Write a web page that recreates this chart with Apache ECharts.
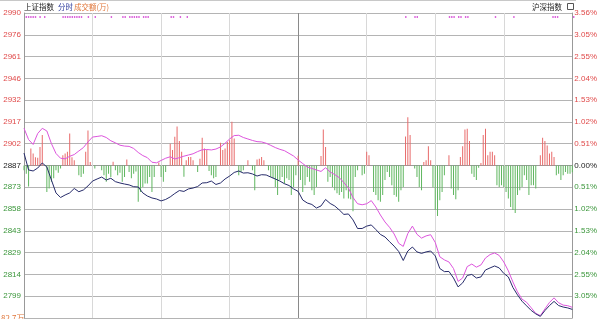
<!DOCTYPE html>
<html><head><meta charset="utf-8">
<script src="https://cdn.jsdelivr.net/npm/echarts@6/dist/echarts.min.js"></script>
<style>html,body{margin:0;padding:0;background:#fff}#c{width:600px;height:319px}</style>
</head><body><div id="c"></div>
<script>
// Reference price (prev close) and one gridline step, in index points
const basePrice = 2887.5;
const stepPrice = 14.7;

// Tick labels, bottom to top
const leftLabels = ['', '2799', '2814', '2829', '2843', '2858', '2873', '2887', '2902', '2917', '2932', '2946', '2961', '2976', '2990'];
const rightLabels = ['', '3.05%', '2.55%', '2.04%', '1.53%', '1.02%', '0.51%', '0.00%', '0.51%', '1.02%', '1.53%', '2.04%', '2.55%', '3.05%', '3.56%'];

// 分时 price line, sampled every 2 minutes (9:30 ... 15:00)
const priceLine = [
  2895.9, 2884.5, 2883.8, 2885.8, 2889.2, 2886.5, 2877.7, 2869.0, 2865.9, 2867.6,
  2869.0, 2872.0, 2869.8, 2871.0, 2873.7, 2877.0, 2878.4, 2879.7, 2877.7, 2878.9,
  2876.6, 2875.7, 2875.0, 2874.4, 2873.2, 2873.0, 2869.0, 2866.9, 2865.6, 2864.9,
  2863.6, 2864.6, 2866.3, 2868.6, 2870.6, 2870.0, 2871.7, 2872.3, 2873.3, 2875.7,
  2875.9, 2877.0, 2874.7, 2875.7, 2878.4, 2880.4, 2882.8, 2883.8, 2882.4, 2882.6,
  2881.8, 2880.4, 2881.3, 2881.1, 2879.7, 2878.4, 2877.0, 2875.2, 2874.0, 2871.7,
  2870.0, 2864.2, 2862.2, 2861.2, 2858.8, 2860.2, 2864.6, 2861.9, 2860.2, 2857.5,
  2854.5, 2854.8, 2850.8, 2845.0, 2845.0, 2846.6, 2847.4, 2844.3, 2841.0, 2839.3,
  2836.1, 2833.1, 2829.5, 2823.4, 2829.8, 2832.5, 2829.2, 2828.2, 2829.2, 2829.8,
  2826.5, 2818.0, 2815.9, 2816.0, 2811.6, 2805.6, 2808.3, 2813.3, 2814.0, 2811.6,
  2812.3, 2817.0, 2818.4, 2819.7, 2818.4, 2814.7, 2812.3, 2805.2, 2800.2, 2795.9,
  2792.8, 2789.7, 2787.4, 2785.7, 2789.6, 2793.0, 2795.8, 2793.0, 2792.0, 2791.4,
  2790.4
];

// 沪深指数 comparison line, sampled every 2 minutes, on the same scale
const indexLine = [
  2912.6, 2905.0, 2901.7, 2909.1, 2912.6, 2910.8, 2902.3, 2895.6, 2892.4, 2892.0,
  2893.7, 2894.9, 2897.3, 2899.6, 2903.4, 2906.7, 2907.1, 2907.6, 2906.4, 2904.2,
  2902.8, 2901.2, 2900.6, 2900.4, 2899.0, 2896.3, 2894.2, 2892.8, 2889.7, 2889.3,
  2890.9, 2892.4, 2893.4, 2891.9, 2892.8, 2893.8, 2894.6, 2895.4, 2896.9, 2898.1,
  2898.3, 2898.0, 2898.6, 2900.0, 2902.5, 2905.4, 2907.7, 2907.9, 2906.4, 2905.4,
  2904.4, 2903.6, 2903.4, 2902.5, 2901.1, 2899.6, 2898.4, 2897.5, 2895.7, 2893.9,
  2891.2, 2888.8, 2886.5, 2885.5, 2884.5, 2883.5, 2886.0, 2883.1, 2881.4, 2879.3,
  2876.0, 2872.3, 2865.9, 2861.7, 2861.0, 2861.7, 2863.8, 2859.5, 2854.1, 2849.4,
  2845.8, 2841.3, 2835.0, 2832.9, 2841.6, 2846.6, 2841.1, 2838.5, 2840.0, 2840.8,
  2835.6, 2825.9, 2823.8, 2822.4, 2818.0, 2809.3, 2811.6, 2819.3, 2821.0, 2818.9,
  2820.4, 2825.1, 2827.4, 2828.5, 2826.8, 2822.4, 2816.4, 2808.9, 2802.2, 2797.3,
  2795.2, 2791.5, 2787.7, 2786.2, 2790.7, 2795.1, 2798.2, 2794.9, 2793.3, 2792.9,
  2791.8
];

// per-minute strength bars (percent units, + red / - green), minute 0..240
const barValues = [
  -0.11, -0.19, -0.49, 0.40, 0.28, 0.19, 0.18, 0.43, 0.71, 0,
  -0.62, -0.54, -0.38, -0.30, -0.11, -0.17, -0.07, 0.24, 0.28, 0.32,
  0.75, 0.19, 0.12, 0, -0.23, -0.27, -0.19, 0.32, 0.82, 0.08,
  0, -0.07, 0, 0, -0.11, -0.23, -0.38, -0.19, -0.27, 0.09,
  -0.11, -0.23, -0.17, -0.38, -0.27, 0.14, -0.15, -0.30, -0.19, -0.14,
  -0.85, -0.62, -0.50, -0.42, -0.42, -0.27, -0.62, -0.27, 0, 0.07,
  -0.27, -0.38, -0.15, 0, 0.51, 0.36, 0.67, 0.91, 0.57, 0.32,
  -0.26, 0.12, 0.20, 0.20, 0.12, 0, -0.15, 0.16, 0.65, 0.40,
  0.36, -0.13, -0.23, -0.30, -0.27, 0, 0.53, 0.36, 0.40, 0.55,
  0.59, 1.02, 0.63, 0, -0.23, -0.15, -0.11, 0, 0.12, 0,
  -0.11, -0.58, 0.14, 0.16, 0.20, 0.12, 0, -0.11, -0.27, -0.30,
  -0.50, -0.69, -0.34, -0.27, -0.42, -0.30, -0.34, -0.69, -0.50, -0.23,
  0.23, -0.34, -0.62, -0.46, -0.27, -0.38, -0.58, -0.69, -0.50, 0,
  0.22, 0.84, 0.43, -0.38, -0.27, -0.50, -0.58, -0.65, -0.69, -0.62,
  -0.77, -0.58, -0.77, -0.79, -1.07, -0.27, -0.11, 0, -0.23, -0.19,
  0.32, 0.24, 0, -0.62, -0.69, -0.81, -0.85, -0.69, -0.34, -0.15,
  -0.27, -0.46, -0.69, -0.73, -0.85, -0.58, -0.50, 0.68, 1.13, 0.71,
  0, -0.07, -0.27, -0.50, -0.58, 0.08, 0.12, 0.45, 0.12, -0.51,
  -1.04, -1.18, -0.81, -0.62, -0.23, 0, 0.24, -0.54, -0.69, -0.79,
  -0.58, 0.20, 0.45, 0.84, 0.86, 0.57, -0.19, -0.27, -0.34, -0.05,
  0.06, 0.71, 0.86, 0.24, 0.32, 0.32, 0.24, -0.46, -0.50, -0.46,
  -0.50, -0.62, -0.77, -0.97, -1.04, -1.11, -0.69, -0.58, -0.50, -0.23,
  -0.34, -0.69, -0.46, -0.46, -0.54, 0, 0.24, 0.65, 0.57, 0.47,
  0.28, 0.32, 0.20, -0.23, -0.19, -0.34, -0.23, -0.15, -0.19, -0.19,
  -0.16
];

// minutes carrying the small magenta marker dots along the top
const dotMinutes = [1, 2, 3, 4, 5, 7, 9, 17, 18, 19, 20, 21, 22, 23, 24, 25, 28, 31, 38, 43, 44, 46, 47, 48, 49, 50, 52, 53, 54, 64, 65, 68, 71, 166, 170, 171, 185, 186, 187, 189, 190, 192, 193, 205, 213, 230, 231, 232, 239];

// ---- build options ----
const RED = '#e04a4a', GREEN = '#3b963b', DARK = '#222';
const stepPct = stepPrice / basePrice * 100;
const toStep = p => (p - basePrice) / stepPrice;
const priceData = priceLine.map((v, i) => [i * 2, toStep(v)]);
const indexData = indexLine.map((v, i) => [i * 2, toStep(v)]);
const barData = barValues.map((v, i) => [i, v / stepPct]);
const dotData = dotMinutes.map(m => [m, 0]);
const labelColor = v => { const r = Math.round(v); return r > 0 ? RED : (r < 0 ? GREEN : DARK); };

const hColors = []; for (let i = 0; i <= 14; i++) hColors.push(i === 7 ? '#9a9a9a' : '#b4b4b4');
const vColors = ['#9a9a9a', '#d8d8d8', '#d8d8d8', '#d8d8d8', '#8a8a8a', '#d8d8d8', '#d8d8d8', '#d8d8d8', '#9a9a9a'];
const FONT = '"Liberation Sans", Arial, sans-serif';
const CJK = '"Noto Sans CJK SC", sans-serif';

const chart = echarts.init(document.getElementById('c'), null, {renderer: 'canvas'});
chart.setOption({
  animation: false,
  backgroundColor: '#fff',
  grid: [
    {left: 24, right: 24, top: 13, height: 305},
    {left: 24, right: 24, top: 16, height: 2}
  ],
  xAxis: [
    {type: 'value', gridIndex: 0, min: 0, max: 240, interval: 30,
     axisLine: {show: false}, axisTick: {show: false}, axisLabel: {show: false},
     splitLine: {show: true, lineStyle: {color: vColors, width: 1}}},
    {type: 'value', gridIndex: 1, min: 0, max: 240, show: false}
  ],
  yAxis: [
    {type: 'value', gridIndex: 0, position: 'left', min: -7, max: 7, interval: 1,
     axisLine: {show: true, lineStyle: {color: '#999'}}, axisTick: {show: false},
     axisLabel: {fontSize: 8, fontFamily: FONT, margin: 3,
       formatter: v => leftLabels[Math.round(v) + 7], color: labelColor},
     splitLine: {show: true, lineStyle: {color: hColors, width: 1}}},
    {type: 'value', gridIndex: 0, position: 'right', min: -7, max: 7, interval: 1,
     axisLine: {show: true, lineStyle: {color: '#999'}}, axisTick: {show: false},
     axisLabel: {fontSize: 8, fontFamily: FONT, margin: 2,
       formatter: v => rightLabels[Math.round(v) + 7], color: labelColor},
     splitLine: {show: false}},
    {type: 'value', gridIndex: 1, min: -1, max: 1, show: false}
  ],
  series: [
    {type: 'bar', xAxisIndex: 0, yAxisIndex: 0, data: barData, barWidth: 1, z: 2,
     itemStyle: {color: p => p.value[1] >= 0 ? '#e86a6a' : '#5fb65f'}},
    {type: 'line', xAxisIndex: 0, yAxisIndex: 0, data: indexData, showSymbol: false, z: 3,
     lineStyle: {color: '#dd55dd', width: 1}},
    {type: 'line', xAxisIndex: 0, yAxisIndex: 0, data: priceData, showSymbol: false, z: 4,
     lineStyle: {color: '#262b6a', width: 1}},
    {type: 'scatter', xAxisIndex: 1, yAxisIndex: 2, data: dotData, symbol: 'rect', symbolSize: [1.4, 2], z: 5,
     itemStyle: {color: '#d23ed2'}}
  ],
  graphic: [
    {type: 'line', shape: {x1: 0, y1: 0.5, x2: 576, y2: 0.5}, style: {stroke: '#c8c8c8', lineWidth: 1}},
    {type: 'text', x: 24, y: 7, style: {text: '上证指数', fill: '#222', fontSize: 7.5, fontFamily: CJK, textVerticalAlign: 'middle'}},
    {type: 'text', x: 58, y: 7, style: {text: '分时', fill: '#2c3a9c', fontSize: 7.5, fontFamily: CJK, textVerticalAlign: 'middle'}},
    {type: 'text', x: 74, y: 7, style: {text: '成交额(万)', fill: '#e0763a', fontSize: 7.5, fontFamily: CJK, textVerticalAlign: 'middle'}},
    {type: 'text', x: 532, y: 7, style: {text: '沪深指数', fill: '#222', fontSize: 7.5, fontFamily: CJK, textVerticalAlign: 'middle'}},
    {type: 'rect', shape: {x: 567.5, y: 3.5, width: 6, height: 6}, style: {fill: '#fff', stroke: '#555', lineWidth: 1}},
    {type: 'text', x: 1, y: 314, style: {text: '82.7万', fill: '#e0763a', fontSize: 8, fontFamily: CJK}}
  ]
});
</script>
</body></html>
